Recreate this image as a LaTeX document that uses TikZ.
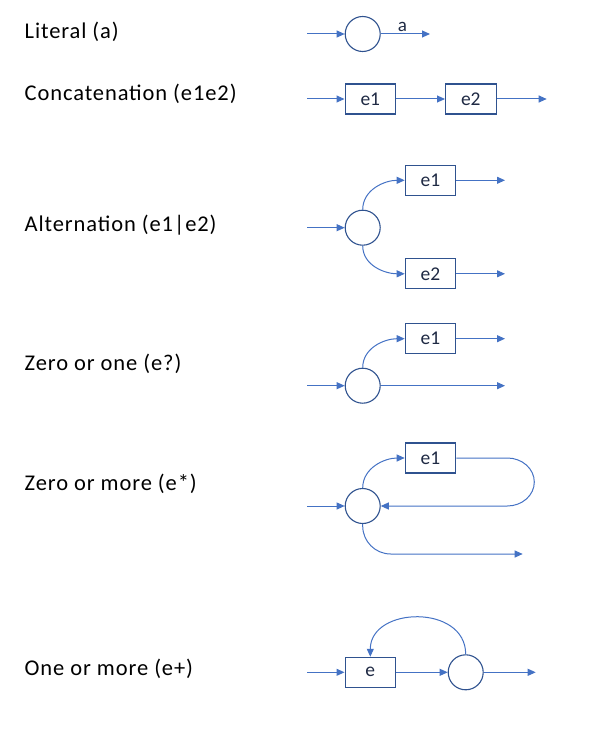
\documentclass[tikz,border=0pt]{standalone}
\usepackage{fontspec}
\setmainfont{Carlito}
\newfontfamily\capfont[LetterSpace=4.0]{Carlito}
\usetikzlibrary{arrows.meta,calc}
\definecolor{lineblue}{HTML}{4472C4}
\definecolor{edgeblue}{HTML}{2F528F}
\definecolor{textnavy}{HTML}{1F2A44}
\tikzset{
  caption/.style={anchor=base west, inner sep=0pt, font=\capfont\fontsize{22.5}{26}\selectfont, text=black},
  statebox/.style={draw=edgeblue, line width=1.1pt, minimum width=50.5pt, minimum height=30pt, inner sep=0pt, font=\fontsize{19.5}{22}\selectfont, text=textnavy, fill=white},
  junction/.style={circle, draw=edgeblue, line width=1.1pt, minimum size=35pt, inner sep=0pt, fill=white},
  flow/.style={draw=lineblue, line width=1pt, -{Triangle[length=8pt,width=7pt]}},
  lbl/.style={font=\fontsize{19}{22}\selectfont, text=textnavy, inner sep=0pt, anchor=base}
}
\begin{document}
\begin{tikzpicture}[x=1pt,y=-1pt]
\useasboundingbox (0,0) rectangle (608,738);
% captions
\node[caption] (t1) at (24.5,38.7) {Literal (a)};
\node[caption] (t2) at (24.5,101) {Concatenation (e1e2)};
\node[caption] (t3) at (24.5,231.7) {Alternation (e1|e2)};
\node[caption] (t4) at (24.5,370) {Zero or one (e?)};
\node[caption] (t5) at (24.5,490) {Zero or more (e*)};
\node[caption] (t6) at (24.5,675) {One or more (e+)};

% Literal
\coordinate (l-in) at (307,34);
\node[junction] (l-c) at (362.7,34) {};
\coordinate (l-out) at (430,34);
\draw[flow] (l-in) -- (l-c);
\draw[flow] (l-c) -- (l-out);
\node[lbl] (l-a) at (402.5,31.5) {a};

% Concatenation
\coordinate (k-in) at (307,99);
\node[statebox] (k-e1) at (370.3,99) {e1};
\node[statebox] (k-e2) at (470.8,99) {e2};
\coordinate (k-out) at (546.7,99);
\draw[flow] (k-in) -- (k-e1);
\draw[flow] (k-e1) -- (k-e2);
\draw[flow] (k-e2) -- (k-out);

% Alternation
\coordinate (a-in) at (307,227.7);
\node[junction] (a-c) at (362.7,227.7) {};
\node[statebox] (a-e1) at (430.5,180.3) {e1};
\node[statebox] (a-e2) at (430.5,273.8) {e2};
\coordinate (a-o1) at (505,180.3);
\coordinate (a-o2) at (505,273.8);
\draw[flow] (a-in) -- (a-c);
\draw[flow] (a-c.north) to[out=90,in=180] (a-e1.west);
\draw[flow] (a-c.south) to[out=-90,in=180] (a-e2.west);
\draw[flow] (a-e1) -- (a-o1);
\draw[flow] (a-e2) -- (a-o2);

% Zero or one
\coordinate (q-in) at (307,385.7);
\node[junction] (q-c) at (362.7,385.7) {};
\node[statebox] (q-e1) at (430.5,338.7) {e1};
\coordinate (q-o1) at (505,338.7);
\coordinate (q-o2) at (505,385.7);
\draw[flow] (q-in) -- (q-c);
\draw[flow] (q-c.north) to[out=90,in=180] (q-e1.west);
\draw[flow] (q-e1) -- (q-o1);
\draw[flow] (q-c) -- (q-o2);

% Zero or more
\coordinate (s-in) at (307,506);
\node[junction] (s-c) at (362.7,506) {};
\node[statebox] (s-e1) at (430.5,458) {e1};
\coordinate (s-out) at (522.7,554);
\draw[flow] (s-in) -- (s-c);
\draw[flow] (s-c.north) to[out=90,in=180] (s-e1.west);
\draw[flow] (s-e1.east) -- ++(51,0) arc[start angle=-90,end angle=90,x radius=27,y radius=24] -- (s-c.east);
\draw[flow, rounded corners=28pt] (s-c.south) |- (s-out);

% One or more
\coordinate (p-in) at (307,672.3);
\node[statebox] (p-e) at (370.3,672.3) {e};
\node[junction] (p-c) at (465.7,672.3) {};
\coordinate (p-out) at (535.7,672.3);
\draw[flow] (p-in) -- (p-e);
\draw[flow] (p-e) -- (p-c);
\draw[flow] (p-c) -- (p-out);
\draw[flow] (p-c.north) to[out=90,in=90,looseness=1.35] (p-e.north);
\end{tikzpicture}
\end{document}
